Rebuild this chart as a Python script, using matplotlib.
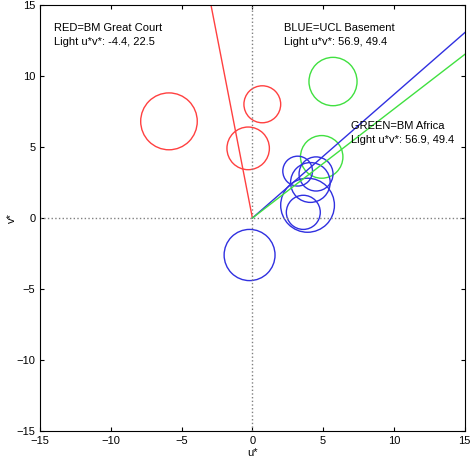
import matplotlib
matplotlib.use("Agg")
import matplotlib.pyplot as plt
import numpy as np
from matplotlib.patches import Circle

plt.rcParams['font.family'] = ['Liberation Sans', 'DejaVu Sans']

red_x = [-5.9, 0.7, -0.3]; red_y = [6.8, 8.0, 4.9]; red_r = [2.0, 1.3, 1.5]
green_x = [5.7, 4.9]; green_y = [9.6, 4.3]; green_r = [1.7, 1.5]
blue_x = [-0.2, 3.2, 4.5, 4.1, 3.9, 3.6]; blue_y = [-2.6, 3.3, 3.1, 2.5, 0.9, 0.4]
blue_r = [1.8, 1.05, 1.2, 1.4, 1.9, 1.2]
light = {"red": (-4.4, 22.5), "blue": (56.9, 49.4), "green": (56.9, 43.6)}

fig = plt.figure(figsize=(4.74, 4.74), dpi=100)
ax = fig.add_axes([0.085, 0.09, 0.895, 0.9])
ax.set_xlim(-15, 15); ax.set_ylim(-15, 15)
ax.axhline(0, color="gray", ls=":", lw=1)
ax.axvline(0, color="gray", ls=":", lw=1)
cols = {"red": "#ff4040", "green": "#40e040", "blue": "#3030e0"}
for c, xs, ys, rs in [("red", red_x, red_y, red_r), ("green", green_x, green_y, green_r), ("blue", blue_x, blue_y, blue_r)]:
    for x, y, r in zip(xs, ys, rs):
        ax.add_patch(Circle((x, y), r, fill=False, ec=cols[c], lw=1))
for c in ["red", "blue", "green"]:
    u, v = light[c]
    ax.plot([0, u], [0, v], color=cols[c], lw=1)
ax.text(-14, 13.7, "RED=BM Great Court\nLight u*v*: -4.4, 22.5", fontsize=8, va="top", linespacing=1.5)
ax.text(2.2, 13.7, "BLUE=UCL Basement\nLight u*v*: 56.9, 49.4", fontsize=8, va="top", linespacing=1.5)
ax.text(7.0, 6.8, "GREEN=BM Africa\nLight u*v*: 56.9, 49.4", fontsize=8, va="top", linespacing=1.5)
ax.set_xticks(range(-15, 16, 5)); ax.set_yticks(range(-15, 16, 5))
ax.tick_params(labelsize=8, direction="in", length=3, top=True, right=True)
ax.set_xlabel("u*", fontsize=8, labelpad=1)
ax.set_ylabel("v*", fontsize=8, labelpad=0)
fig.savefig("out.png", dpi=100)
